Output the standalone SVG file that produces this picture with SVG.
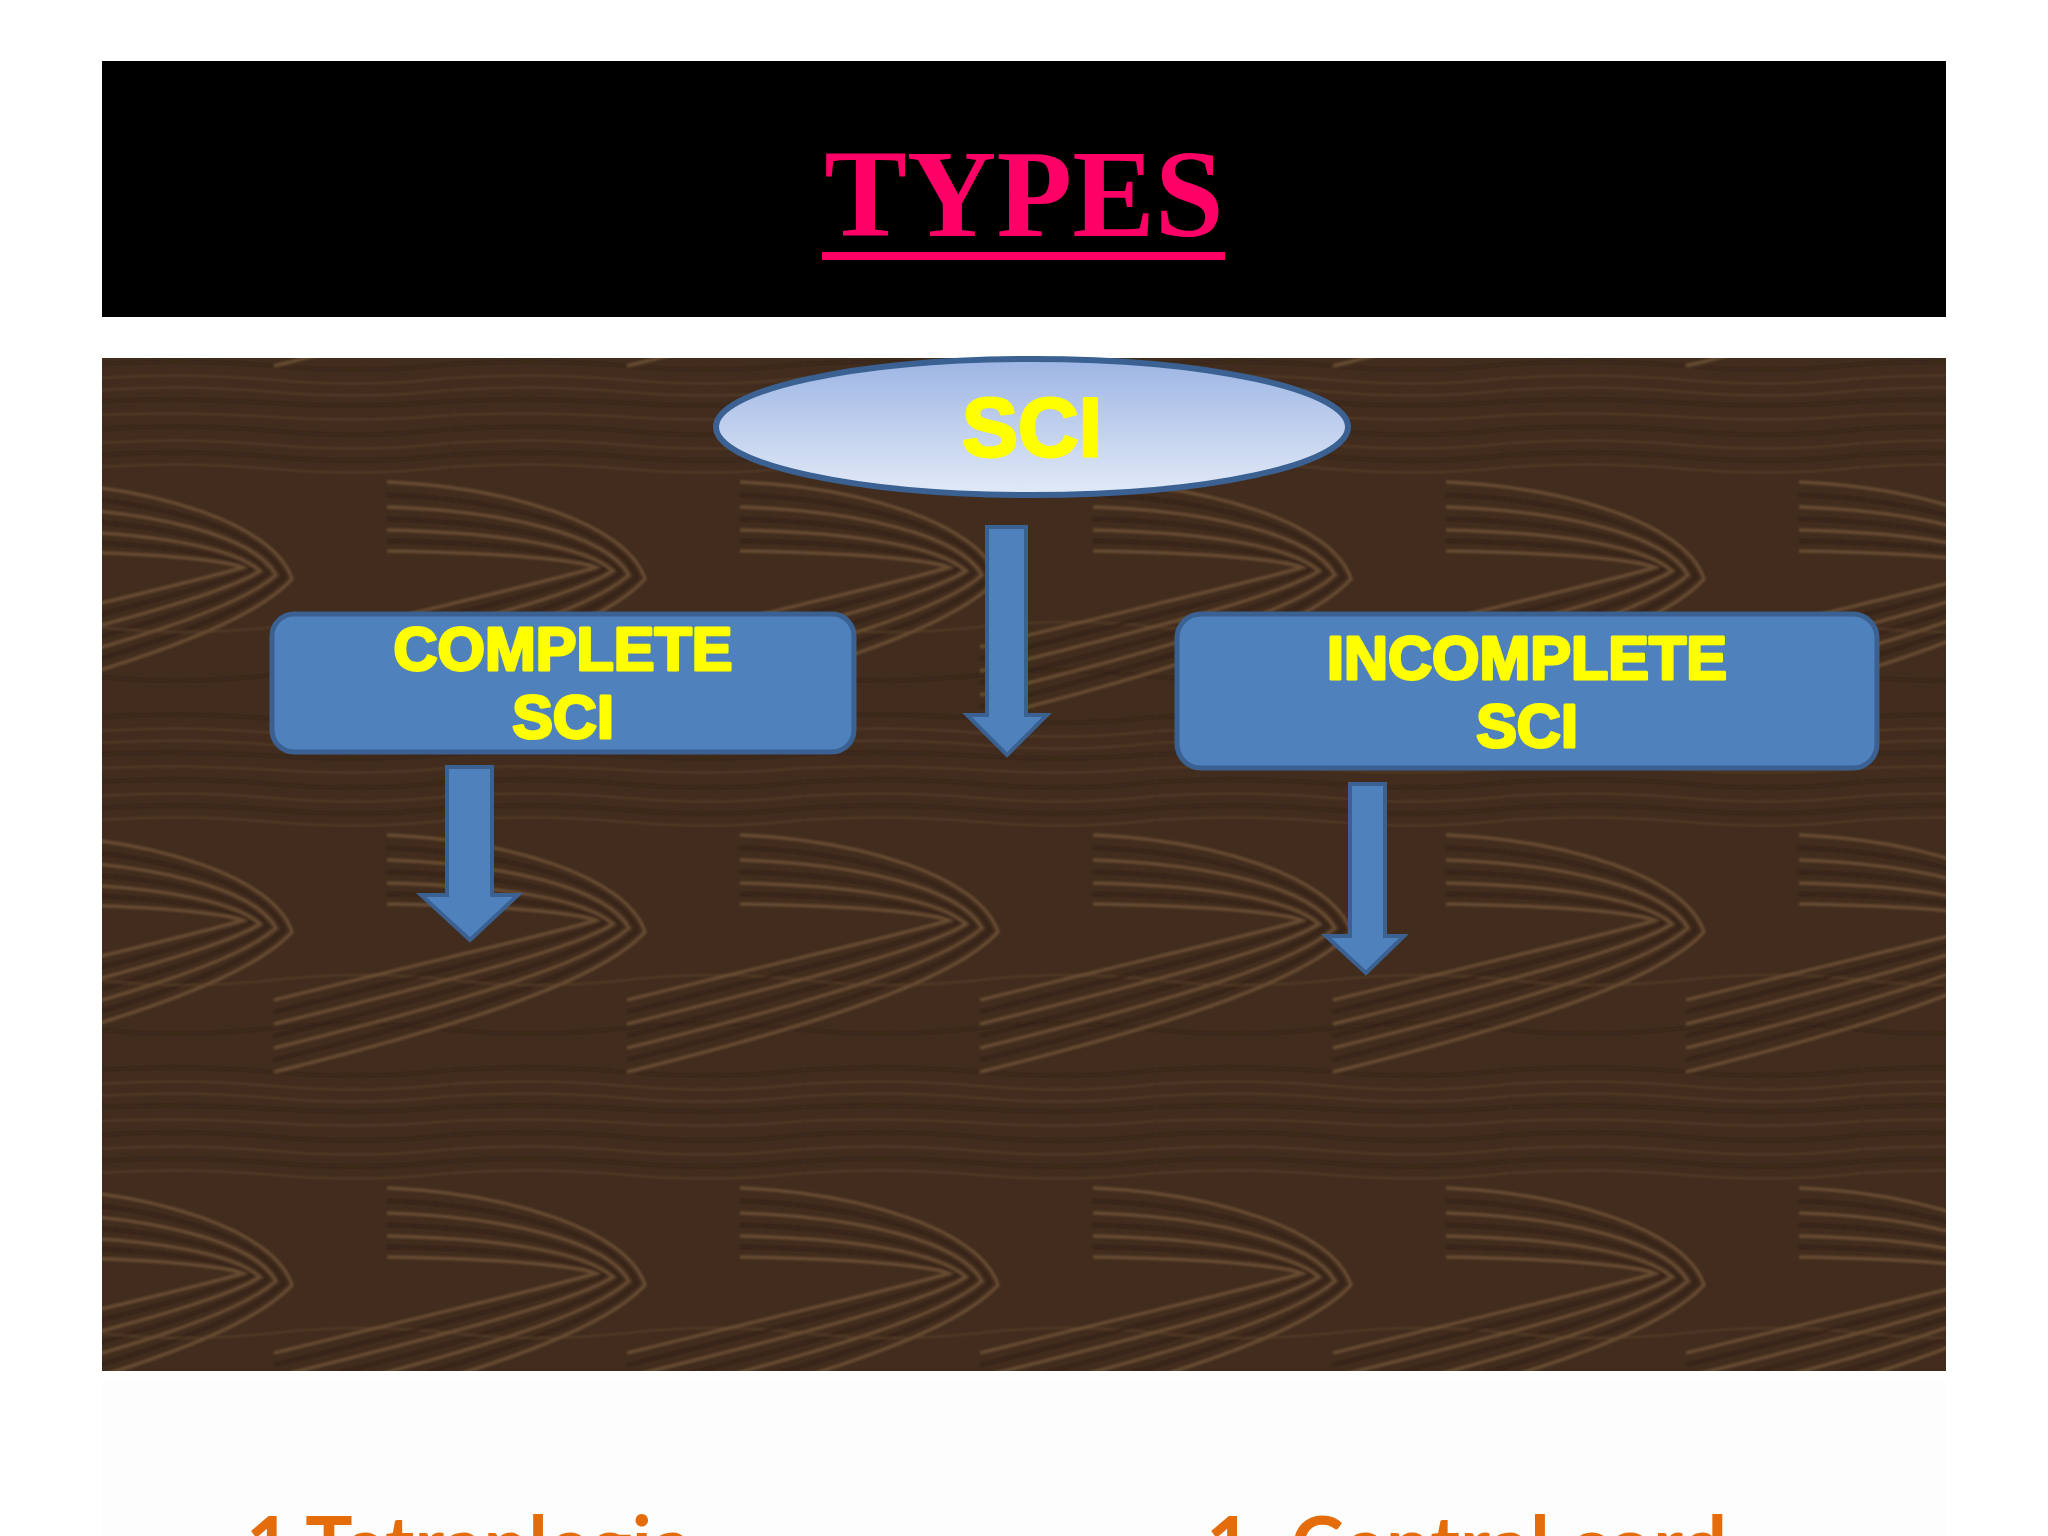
<svg xmlns="http://www.w3.org/2000/svg" xmlns:xlink="http://www.w3.org/1999/xlink" width="2048" height="1536" viewBox="0 0 2048 1536">
<style>
.box{fill:#4F81BD;stroke:#3A6192;stroke-width:5}
.arrow{fill:#4F81BD;stroke:#3A6192;stroke-width:4;stroke-linejoin:miter}
.lbl{font-family:"Liberation Sans",Arial,sans-serif;font-weight:bold;fill:#FFFF00;stroke:#FFFF00;stroke-width:3;stroke-linejoin:round;text-anchor:middle}
.list{font-family:Lato,"Open Sans",sans-serif;font-weight:bold;fill:#E46C0A;font-size:80px}
.gl{fill:none;stroke:#806040;stroke-width:3.5;stroke-opacity:.6}
.gd{fill:none;stroke:#2A1A10;stroke-width:2.5;stroke-opacity:.55}
.gf{fill:none;stroke:#6A4E33;stroke-width:2;stroke-opacity:.45}
.gk{fill:none;stroke:#2C1D13;stroke-width:2;stroke-opacity:.45}
</style>
<defs>
<linearGradient id="ellG" x1="0" y1="0" x2="0" y2="1">
<stop offset="0" stop-color="#9DB5E4"/>
<stop offset="1" stop-color="#E2EAF7"/>
</linearGradient>
<filter id="soft" x="-5%" y="-5%" width="110%" height="110%"><feGaussianBlur stdDeviation="1.2"/></filter>
<g id="chev">
<path class="gl" d="M-240,-16 C-120,-14 -60,-8 -30,0 C-60,10 -150,30 -353,80"/>
<path class="gd" d="M-240,-26 C-120,-24 -50,-14 -22,2 C-54,18 -150,42 -353,92"/>
<path class="gl" d="M-240,-37 C-120,-34 -40,-20 -14,4 C-48,26 -150,54 -353,104"/>
<path class="gd" d="M-240,-48 C-120,-45 -30,-26 -6,6 C-42,34 -150,66 -353,116"/>
<path class="gl" d="M-240,-60 C-120,-56 -20,-32 2,8 C-36,42 -150,78 -353,128"/>
<path class="gd" d="M-240,-72 C-120,-68 -10,-38 10,10 C-30,50 -150,90 -353,140"/>
<path class="gl" d="M-240,-85 C-120,-80 0,-44 18,12 C-24,58 -150,102 -353,152"/>
<path class="gf" d="M-176,-100 Q-90,-106 0,-98 T176,-100"/>
<path class="gk" d="M-176,-112 Q-90,-118 0,-110 T176,-112"/>
<path class="gf" d="M-176,-124 Q-90,-130 0,-122 T176,-124"/>
<path class="gk" d="M-176,-138 Q-90,-144 0,-136 T176,-138"/>
<path class="gf" d="M-176,-152 Q-90,-156 0,-150 T176,-152"/>
<path class="gk" d="M-176,-166 Q-90,-170 0,-164 T176,-166"/>
<path class="gf" d="M-176,164 Q-90,158 0,166 T176,164"/>
<path class="gk" d="M-176,150 Q-90,144 0,152 T176,150"/>
<path class="gf" d="M-176,176 Q-90,170 0,178 T176,176"/>
<path class="gf" d="M-176,60 Q-90,70 0,60 T176,60"/>
<path class="gk" d="M-176,110 Q-90,118 0,108 T176,110"/>
</g>
<pattern id="wood" patternUnits="userSpaceOnUse" x="98" y="391" width="353" height="353">
<rect width="353" height="353" fill="#412C1D"/>
<g filter="url(#soft)">
<use xlink:href="#chev" transform="translate(-177,-177)"/>
<use xlink:href="#chev" transform="translate(176,-177)"/>
<use xlink:href="#chev" transform="translate(529,-177)"/>
<use xlink:href="#chev" transform="translate(-177,176)"/>
<use xlink:href="#chev" transform="translate(176,176)"/>
<use xlink:href="#chev" transform="translate(529,176)"/>
<use xlink:href="#chev" transform="translate(-177,529)"/>
<use xlink:href="#chev" transform="translate(176,529)"/>
<use xlink:href="#chev" transform="translate(529,529)"/>
</g>
</pattern>
</defs>
<rect width="2048" height="1536" fill="#FFFFFF"/>
<rect x="102" y="1380" width="1844" height="156" fill="#FDFDFD"/>
<g id="title">
<rect x="102" y="61" width="1844" height="256" fill="#000000"/>
<text x="1024" y="236" font-family="'Liberation Serif','Times New Roman',serif" font-weight="bold" font-size="124" fill="#FF0066" text-anchor="middle">TYPES</text>
<rect x="822" y="252" width="403" height="8" fill="#FF0066"/>
</g>
<g id="panel">
<rect x="102" y="358" width="1844" height="1013" fill="url(#wood)"/>
</g>
<g id="connectors">
<path class="arrow" d="M987,527 H1026 V715 H1047 L1007,755 L967,715 H987 Z"/>
<path class="arrow" d="M447,767 H492 V895 H518 L470,940 L421,895 H447 Z"/>
<path class="arrow" d="M1350,784 H1385 V936 H1404 L1366,973 L1326,936 H1350 Z"/>
</g>
<g id="node-sci">
<ellipse cx="1032" cy="427" rx="316" ry="68" fill="url(#ellG)" stroke="#3A6192" stroke-width="6"/>
<text class="lbl" x="1032" y="456" font-size="84">SCI</text>
</g>
<g id="node-complete">
<rect class="box" x="272" y="614" width="582" height="138" rx="22"/>
<text class="lbl" x="563" y="670" font-size="61">COMPLETE</text>
<text class="lbl" x="563" y="738" font-size="61">SCI</text>
</g>
<g id="node-incomplete">
<rect class="box" x="1177" y="614" width="700" height="154" rx="24"/>
<text class="lbl" x="1527" y="679" font-size="61">INCOMPLETE</text>
<text class="lbl" x="1527" y="747" font-size="61">SCI</text>
</g>
<g id="bottom-text">
<text class="list" x="246" y="1574" textLength="446" lengthAdjust="spacingAndGlyphs">1.Tetraplegia</text>
<text class="list" x="1206" y="1574">1.  Central cord</text>
</g>
</svg>
